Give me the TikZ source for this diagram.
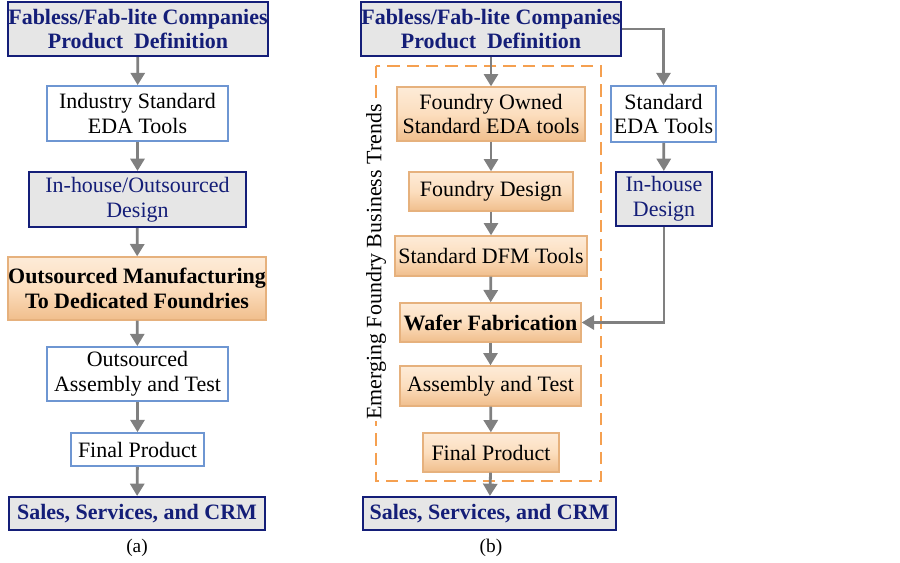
\documentclass[tikz,border=0pt]{standalone}
\usepackage{fontspec}
\setmainfont{Liberation Serif}
\usetikzlibrary{arrows.meta}
\definecolor{navy}{RGB}{20,30,120}
\definecolor{boxgray}{RGB}{230,230,230}
\definecolor{lblue}{RGB}{110,150,210}
\definecolor{peach}{RGB}{252,222,190}
\definecolor{peachdk}{RGB}{240,190,140}
\definecolor{dorange}{RGB}{245,160,80}
\begin{document}
\begin{tikzpicture}[x=0.02cm,y=-0.02cm,
        font=\fontsize{12.5}{14}\selectfont,
        sz/.style 2 args={minimum width=#1*0.02cm, minimum height=#2*0.02cm, inner sep=0pt, align=center},
        company/.style={draw=navy, line width=1.2pt, fill=boxgray, text=navy, font=\fontsize{12.5}{14}\selectfont\bfseries},
        inhouse/.style={draw=navy, line width=1.2pt, fill=boxgray, text=navy},
        tool/.style={draw=lblue, line width=1pt, fill=white},
        foundry/.style={draw=peachdk!80!brown, line width=0.8pt, top color=peach!60, bottom color=peachdk, middle color=peach},
        flow/.style={-{Triangle[length=7pt,width=8pt]}, draw=gray, line width=1.6pt}
    ]
    \useasboundingbox (0,0) rectangle (900,562);

    % (a) fabless flow
    \node [company, sz={260}{54}] (a1) at (138,29) {Fabless/Fab-lite Companies\\Product~ Definition};
    \node [tool, sz={181}{55}] (a2) at (137.5,113.5) {Industry Standard\\EDA Tools};
    \node [inhouse, sz={217}{55}] (a3) at (137.5,199.5) {In-house/Outsourced\\Design};
    \node [foundry, sz={256}{63}, font=\fontsize{12.5}{14}\selectfont\bfseries] (a4) at (137,288.5) {Outsourced Manufacturing\\To Dedicated Foundries};
    \node [tool, sz={181}{54}] (a5) at (137.5,374) {Outsourced\\Assembly and Test};
    \node [tool, sz={133}{33}] (a6) at (137.5,449.5) {Final Product};
    \node [company, sz={256}{33}] (a7) at (137,513.5) {Sales, Services, and CRM};
    \node (alab) at (137,548) {\fontsize{11}{13}\selectfont(a)};

    \foreach \u/\v in {a1/a2,a2/a3,a3/a4,a4/a5,a5/a6,a6/a7}
        \draw [flow] (\u) -- (\v);

    % (b) foundry trends
    \draw [dorange, line width=1.6pt, dash pattern=on 7pt off 4pt] (376,66) rectangle (601,481);
    \node [rotate=90, fill=white, inner sep=1pt] (trend) at (376,262) {Emerging Foundry Business Trends};

    \node [company, sz={258}{54}] (b1) at (491,29) {Fabless/Fab-lite Companies\\Product~ Definition};
    \node [foundry, sz={188}{54}] (b2) at (491,114) {Foundry Owned\\Standard EDA tools};
    \node [foundry, sz={164}{39}] (b3) at (491,191.5) {Foundry Design};
    \node [foundry, sz={192}{40}] (b4) at (491,256) {Standard DFM Tools};
    \node [foundry, sz={181}{39}, font=\fontsize{12.5}{14}\selectfont\bfseries] (b5) at (490.5,322.5) {Wafer Fabrication};
    \node [foundry, sz={181}{40}] (b6) at (490.5,386) {Assembly and Test};
    \node [foundry, sz={136}{39}] (b7) at (491,452.5) {Final Product};
    \node [company, sz={253}{33}] (b8) at (489.5,513.5) {Sales, Services, and CRM};
    \node (blab) at (491,548) {\fontsize{11}{13}\selectfont(b)};

    \node [tool, sz={105}{56}] (b9) at (663.5,114) {Standard\\EDA Tools};
    \node [inhouse, sz={96}{54}] (b10) at (664,199) {In-house\\Design};

    \foreach \u/\v in {b1/b2,b2/b3,b3/b4,b4/b5,b5/b6,b6/b7,b7/b8,b9/b10}
        \draw [flow] (\u) -- (\v);
    \draw [flow] (b1.east) -| (b9.north);
    \draw [flow] (b10.south) |- (b5.east);
\end{tikzpicture}
\end{document}
